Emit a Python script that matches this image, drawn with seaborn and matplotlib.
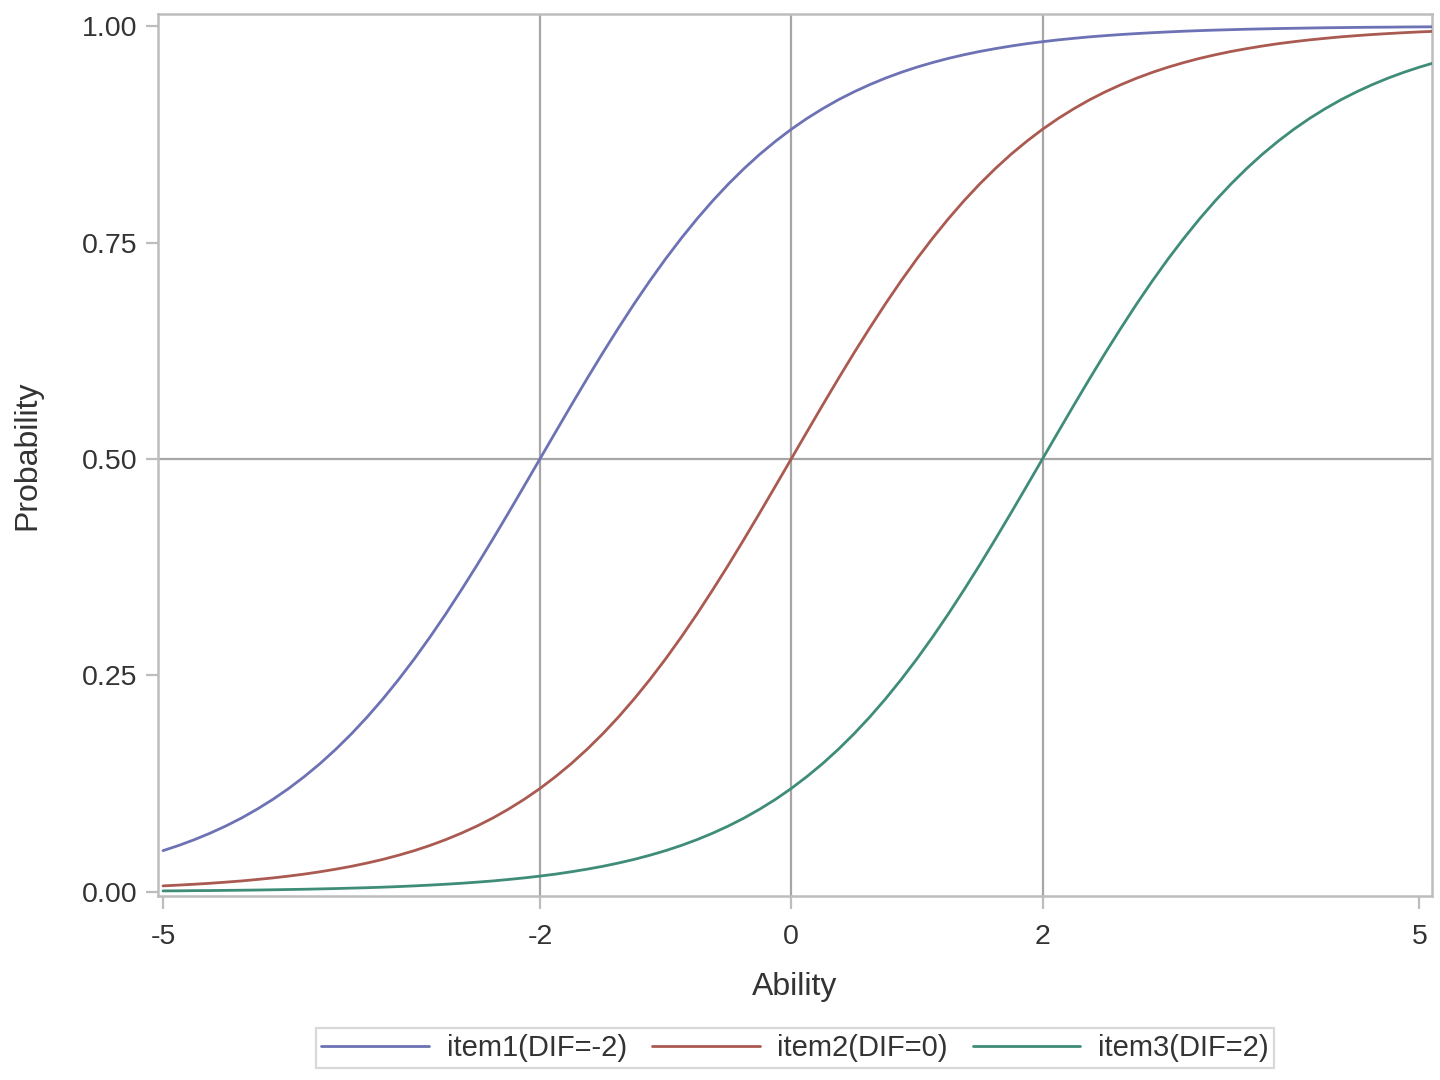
import matplotlib
matplotlib.use("Agg")
import matplotlib.pyplot as plt
import seaborn as sns
import pandas as pd

ability = [-5.0, -4.875, -4.75, -4.625, -4.5, -4.375, -4.25, -4.125,
           -4.0, -3.875, -3.75, -3.625, -3.5, -3.375, -3.25, -3.125,
           -3.0, -2.875, -2.75, -2.625, -2.5, -2.375, -2.25, -2.125,
           -2.0, -1.875, -1.75, -1.625, -1.5, -1.375, -1.25, -1.125,
           -1.0, -0.875, -0.75, -0.625, -0.5, -0.375, -0.25, -0.125,
           0.0, 0.125, 0.25, 0.375, 0.5, 0.625, 0.75, 0.875,
           1.0, 1.125, 1.25, 1.375, 1.5, 1.625, 1.75, 1.875,
           2.0, 2.125, 2.25, 2.375, 2.5, 2.625, 2.75, 2.875,
           3.0, 3.125, 3.25, 3.375, 3.5, 3.625, 3.75, 3.875,
           4.0, 4.125, 4.25, 4.375, 4.5, 4.625, 4.75, 4.875,
           5.0, 5.1]

item1 = [0.0474, 0.0534, 0.0601, 0.0676, 0.0759, 0.0851, 0.0954, 0.1067,
         0.1192, 0.1330, 0.1480, 0.1645, 0.1824, 0.2018, 0.2227, 0.2451,
         0.2689, 0.2942, 0.3208, 0.3487, 0.3775, 0.4073, 0.4378, 0.4688,
         0.5000, 0.5312, 0.5622, 0.5927, 0.6225, 0.6513, 0.6792, 0.7058,
         0.7311, 0.7549, 0.7773, 0.7982, 0.8176, 0.8355, 0.8520, 0.8670,
         0.8808, 0.8933, 0.9046, 0.9149, 0.9241, 0.9324, 0.9399, 0.9466,
         0.9526, 0.9579, 0.9627, 0.9669, 0.9707, 0.9740, 0.9770, 0.9797,
         0.9820, 0.9841, 0.9859, 0.9876, 0.9890, 0.9903, 0.9914, 0.9924,
         0.9933, 0.9941, 0.9948, 0.9954, 0.9959, 0.9964, 0.9968, 0.9972,
         0.9975, 0.9978, 0.9981, 0.9983, 0.9985, 0.9987, 0.9988, 0.9990,
         0.9991, 0.9992]

item2 = [0.0067, 0.0076, 0.0086, 0.0097, 0.0110, 0.0124, 0.0141, 0.0159,
         0.0180, 0.0203, 0.0230, 0.0260, 0.0293, 0.0331, 0.0373, 0.0421,
         0.0474, 0.0534, 0.0601, 0.0676, 0.0759, 0.0851, 0.0954, 0.1067,
         0.1192, 0.1330, 0.1480, 0.1645, 0.1824, 0.2018, 0.2227, 0.2451,
         0.2689, 0.2942, 0.3208, 0.3487, 0.3775, 0.4073, 0.4378, 0.4688,
         0.5000, 0.5312, 0.5622, 0.5927, 0.6225, 0.6513, 0.6792, 0.7058,
         0.7311, 0.7549, 0.7773, 0.7982, 0.8176, 0.8355, 0.8520, 0.8670,
         0.8808, 0.8933, 0.9046, 0.9149, 0.9241, 0.9324, 0.9399, 0.9466,
         0.9526, 0.9579, 0.9627, 0.9669, 0.9707, 0.9740, 0.9770, 0.9797,
         0.9820, 0.9841, 0.9859, 0.9876, 0.9890, 0.9903, 0.9914, 0.9924,
         0.9933, 0.9939]

item3 = [0.0009, 0.0010, 0.0012, 0.0013, 0.0015, 0.0017, 0.0019, 0.0022,
         0.0025, 0.0028, 0.0032, 0.0036, 0.0041, 0.0046, 0.0052, 0.0059,
         0.0067, 0.0076, 0.0086, 0.0097, 0.0110, 0.0124, 0.0141, 0.0159,
         0.0180, 0.0203, 0.0230, 0.0260, 0.0293, 0.0331, 0.0373, 0.0421,
         0.0474, 0.0534, 0.0601, 0.0676, 0.0759, 0.0851, 0.0954, 0.1067,
         0.1192, 0.1330, 0.1480, 0.1645, 0.1824, 0.2018, 0.2227, 0.2451,
         0.2689, 0.2942, 0.3208, 0.3487, 0.3775, 0.4073, 0.4378, 0.4688,
         0.5000, 0.5312, 0.5622, 0.5927, 0.6225, 0.6513, 0.6792, 0.7058,
         0.7311, 0.7549, 0.7773, 0.7982, 0.8176, 0.8355, 0.8520, 0.8670,
         0.8808, 0.8933, 0.9046, 0.9149, 0.9241, 0.9324, 0.9399, 0.9466,
         0.9526, 0.9569]

series_names = ["item1(DIF=-2)", "item2(DIF=0)", "item3(DIF=2)"]
series_values = [item1, item2, item3]
colors = ["#6C72B4", "#AA5A50", "#3F8C79"]

x_ticks = [-5, -2, 0, 2, 5]
y_ticks = [0.00, 0.25, 0.50, 0.75, 1.00]
y_tick_labels = ["0.00", "0.25", "0.50", "0.75", "1.00"]
ref_x = [-2, 0, 2]
ref_y = [0.5]

rows = []
for name, vals in zip(series_names, series_values):
    for a, p in zip(ability, vals):
        rows.append({"Ability": a, "Probability": p, "item": name})
df = pd.DataFrame(rows)

sns.set_theme(style="white")
plt.rcParams["font.family"] = ["Liberation Sans", "DejaVu Sans"]

fig = plt.figure(figsize=(14.4, 10.8), dpi=100)
ax = fig.add_axes([158/1440, 1 - 896/1080, (1432-158)/1440, (896-14)/1080])

ref_color = "#A6A6A6"
for xv in ref_x:
    ax.axvline(xv, color=ref_color, lw=1.6, zorder=1)
for yv in ref_y:
    ax.axhline(yv, color=ref_color, lw=1.6, zorder=1)

sns.lineplot(data=df, x="Ability", y="Probability", hue="item", hue_order=series_names,
             palette=colors, lw=2.0, ax=ax, legend=False, zorder=3)

ax.set_xlim(-5.04, 5.1)
ax.set_ylim(-0.005, 1.014)
ax.set_xticks(x_ticks)
ax.set_xticklabels([str(t) for t in x_ticks])
ax.set_yticks(y_ticks)
ax.set_yticklabels(y_tick_labels)

text_color = "#333333"
spine_color = "#BDBDBD"
for s in ax.spines.values():
    s.set_color(spine_color)
    s.set_linewidth(1.8)
ax.tick_params(axis="y", which="major", length=9, width=1.6, color=spine_color,
               labelsize=20.5, labelcolor=text_color, pad=6, left=True)
ax.tick_params(axis="x", which="major", length=9, width=1.6, color=spine_color,
               labelsize=20.5, labelcolor=text_color, pad=11, bottom=True)

ax.set_xlabel("Ability", fontsize=23, color=text_color, labelpad=16)
ax.set_ylabel("Probability", fontsize=23, color=text_color, labelpad=28)

handles = [plt.Line2D([], [], color=c, lw=2.0) for c in colors]
leg = fig.legend(handles, series_names, loc="center", ncol=3,
                 bbox_to_anchor=(795/1440, 1 - 1048/1080), fontsize=21,
                 frameon=True, fancybox=False, edgecolor="#CFCFCF",
                 handlelength=3.7, handletextpad=0.6, columnspacing=0.85,
                 borderpad=0.2, borderaxespad=0)
leg.get_frame().set_linewidth(1.6)
for t in leg.get_texts():
    t.set_color(text_color)

fig.savefig("out.png", dpi=100, facecolor="white")
